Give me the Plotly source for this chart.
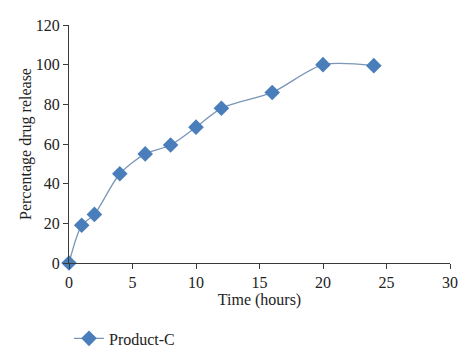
import plotly.graph_objects as go

time_hours = [0, 1, 2, 4, 6, 8, 10, 12, 16, 20, 24]
release_pct = [0, 19, 24.5, 45, 55, 59.5, 68.5, 78, 86, 100, 99.5]
series_name = "Product-C"
x_ticks = [0, 5, 10, 15, 20, 25, 30]
y_ticks = [0, 20, 40, 60, 80, 100, 120]

FONT = dict(family="Liberation Serif", size=16, color="#222222")

fig = go.Figure()
fig.add_trace(go.Scatter(
    x=time_hours, y=release_pct, name=series_name,
    mode="lines+markers",
    line=dict(color="#7b96b8", width=1.3, shape="spline", smoothing=0.8),
    marker=dict(symbol="diamond", size=12, color="#4a7ebb",
                line=dict(width=0)),
    cliponaxis=False,
))

axis_common = dict(
    showline=True, linecolor="#3a3a3a", linewidth=1.3,
    ticks="outside", ticklen=5, tickcolor="#3a3a3a", tickwidth=1.3,
    showgrid=False, zeroline=False, automargin=False,
    tickfont=FONT,
)

fig.update_layout(
    width=474, height=364,
    margin=dict(l=61, r=32, t=17, b=109),
    paper_bgcolor="white", plot_bgcolor="white",
    showlegend=True,
    legend=dict(x=0.0, y=-0.317, xanchor="left", yanchor="middle",
                font=FONT, bgcolor="rgba(0,0,0,0)"),
    xaxis=dict(range=[0, 30], tickvals=x_ticks,
               title=dict(text="Time (hours)", standoff=0, font=FONT),
               **axis_common),
    yaxis=dict(range=[0, 120], tickvals=y_ticks,
               title=dict(text="Percentage drug release", standoff=0, font=FONT),
               **axis_common),
)

fig.write_html("out.html")
